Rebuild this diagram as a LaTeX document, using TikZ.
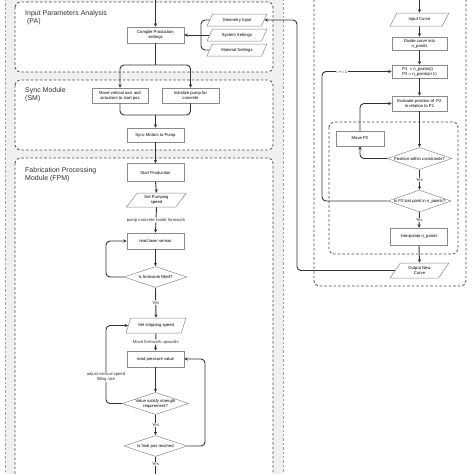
\documentclass[tikz,border=0pt]{standalone}
\usepackage{fontspec}
\setmainfont{Liberation Sans}
\usetikzlibrary{shapes.geometric,arrows.meta,calc}
\definecolor{boxgray}{HTML}{8A8A8A}
\definecolor{linegray}{HTML}{333333}
\definecolor{reggray}{HTML}{4A4A4A}
\definecolor{outgray}{HTML}{A0A0A0}
\definecolor{fillgray}{HTML}{F0F0F0}
\newcommand\nfont{\fontsize{4.2}{5}\selectfont}
\newcommand\tfont{\fontsize{7}{8.2}\selectfont}
\tikzset{
  stepbox/.style={draw=boxgray, line width=0.5pt, fill=white, minimum width=57pt, minimum height=16pt, inner sep=0.5pt, align=center, font=\nfont},
  iobox/.style={trapezium, trapezium left angle=55, trapezium right angle=125, trapezium stretches=true, draw=boxgray, line width=0.5pt, fill=white, minimum width=60pt, minimum height=12pt, inner sep=0.5pt, align=center, font=\nfont},
  decide/.style={diamond, aspect=3, draw=boxgray, line width=0.5pt, fill=white, minimum width=63pt, minimum height=21pt, inner sep=0pt, align=center, font=\nfont},
  conn/.style={draw=linegray, line width=0.9pt, rounded corners=4pt},
  arr/.style={conn, -{Stealth[length=3.5pt,width=3.2pt]}},
  lbl/.style={fill=white, inner sep=0.6pt, font=\nfont, align=center, text=linegray},
  region/.style={draw=reggray, dash pattern=on 2.6pt off 2pt, line width=0.8pt, rounded corners=5pt, fill=white},
  title/.style={anchor=north west, align=left, font=\tfont, text=linegray, inner sep=0pt},
}
\begin{document}
\begin{tikzpicture}[x=1pt,y=-1pt]
\useasboundingbox (0,0) rectangle (474,474);
% regions
\draw[draw=outgray, fill=fillgray, dash pattern=on 2.4pt off 2pt, line width=0.6pt] (5,-10) rectangle (283,490);
\draw[region] (15,2) rectangle (273,72);
\draw[region] (15,80) rectangle (273,150);
\draw[region] (15,158) rectangle (273,490);
\draw[region] (314,-10) rectangle (466,286);
\draw[region] (329,122) rectangle (458,254);
\node[title] (tpa) at (25,10) {Input Parameters Analysis\\\ (PA)};
\node[title] (tsm) at (25,87) {Sync Module\\(SM)};
\node[title] (tfpm) at (25,167) {Fabrication Processing\\Module (FPM)};

% left column
\coordinate (topL) at (155.5,-8);
\node[stepbox] (comp) at (155.5,35) {Compile Production\\settings};
\node[iobox] (geo) at (237,20) {Geometry Input};
\node[iobox] (sys) at (237,35) {System Settings};
\node[iobox] (mat) at (237,50) {Material Settings};
\node[stepbox, minimum width=56pt, minimum height=15pt] (mv) at (120,95.5) {Move vertical axis and\\actuators to start pos};
\node[stepbox, minimum height=15pt] (ip) at (190.5,95.5) {Initialize pump for\\concrete};
\node[stepbox, minimum height=14pt] (sync) at (155.5,135) {Sync Motors to Pump};
\node[stepbox, minimum height=18pt] (start) at (155.5,172.5) {Start Production};
\node[iobox, minimum width=60pt, minimum height=14pt] (pump) at (156.5,200) {Set Pumping\\speed};
\node[stepbox] (laser) at (155.5,241) {read laser sensor};
\node[decide] (fill) at (155.5,277) {Is formwork filled?};
\node[iobox, minimum height=15pt] (strip) at (156,325.5) {Set stripping speed};
\node[stepbox] (press) at (155.5,359) {read pressure value};
\node[decide] (value) at (155.5,403.5) {Value satisfy strength\\requirement?};
\node[decide] (final) at (155.5,446) {Is final pos reached};
\coordinate (botL) at (155.5,490);

\coordinate (bj) at (201,35);
\coordinate (split) at (155.5,65);
\coordinate (merge) at (155.5,115);
\coordinate (l1) at (106,241);
\coordinate (l2) at (106,325.5);
\coordinate (r1) at (205,359);

\draw[arr] (topL) -- (comp.north);
\draw[conn] (geo.west) -| (bj) |- (mat.west);
\draw[arr] (sys.west) -- (comp.east);
\draw[conn] (comp.south) -- (split);
\draw[arr] (split) -| (mv.north);
\draw[arr] (split) -| (ip.north);
\draw[conn] (mv.south) |- (merge) -| (ip.south);
\draw[arr] (merge) -- (sync.north);
\draw[arr] (sync.south) -- (start.north);
\draw[arr] (start.south) -- (pump.north);
\draw[arr] (pump.south) -- node[lbl] (lpump) {pump concrete inside formwork} (laser.north);
\draw[arr] (laser.south) -- (fill.north);
\draw[arr] (fill.west) -| (l1) -- (laser.west);
\draw[arr] (fill.south) -- node[lbl] (yes1) {Yes} (strip.north);
\draw[arr] (strip.south) -- node[lbl] (lmove) {Move formwork upwards} (press.north);
\draw[arr] (press.south) -- (value.north);
\draw[arr] (value.west) -| (l2) -- (strip.west);
\node[lbl] (ladj) at (106,377) {adjust vertical speed\\filling rate};
\draw[arr] (value.south) -- node[lbl] (yes2) {Yes} (final.north);
\draw[arr] (final.east) -| (r1) -- (press.east);
\draw[conn] (final.south) -- (botL);
\node[lbl] (yes3) at (155.5,464) {Yes};

% right column
\coordinate (topR) at (419.5,-8);
\node[iobox, minimum width=59pt, minimum height=13pt] (incurve) at (419.5,19.5) {Input Curve};
\node[stepbox, minimum width=55pt, minimum height=13pt] (divide) at (419.5,43.5) {Divide curve into\\n\_points};
\node[stepbox, minimum width=55pt, minimum height=13pt, align=left] (p1) at (419.5,71.5) {P1 \ = n\_points(i)\\P2 = n\_points(i+1)};
\node[stepbox, minimum width=55pt, minimum height=15pt] (eval) at (419.5,103.5) {Evaluate position of \ P2\\in relation to P1};
\node[stepbox, minimum width=48pt, minimum height=15pt] (movep2) at (360,138.5) {Move P2};
\node[decide, minimum width=65pt, minimum height=22pt] (pos) at (419.5,158.5) {Position within constraints?};
\node[decide, minimum width=63pt, minimum height=22pt] (last) at (419.5,201) {Is P2 last point in n\_points?};
\node[stepbox, minimum height=17pt] (interp) at (419,236.5) {Interpolate n\_points};
\node[iobox, minimum width=59pt, minimum height=15pt] (out) at (419.5,270.5) {Output New\\Curve};
\coordinate (lp) at (322,71.5);
\coordinate (fb) at (297,20);

\draw[arr] (topR) -- (incurve.north);
\draw[arr] (incurve.south) -- (divide.north);
\draw[arr] (divide.south) -- (p1.north);
\draw[arr] (p1.south) -- (eval.north);
\draw[arr] (eval.south) -- (pos.north);
\draw[arr] (pos.west) -| (movep2.south);
\draw[arr] (movep2.north) |- (eval.west);
\draw[arr] (pos.south) -- node[lbl] (yes4) {Yes} (last.north);
\draw[arr] (last.west) -| (lp) -- (p1.west);
\node[lbl] (inc) at (342,71.5) {i += 1};
\draw[arr] (last.south) -- node[lbl] (yes5) {Yes} (interp.north);
\draw[arr] (interp.south) -- (out.north);
\draw[arr] (out.west) -| (fb) -- (geo.east);
\end{tikzpicture}
\end{document}
